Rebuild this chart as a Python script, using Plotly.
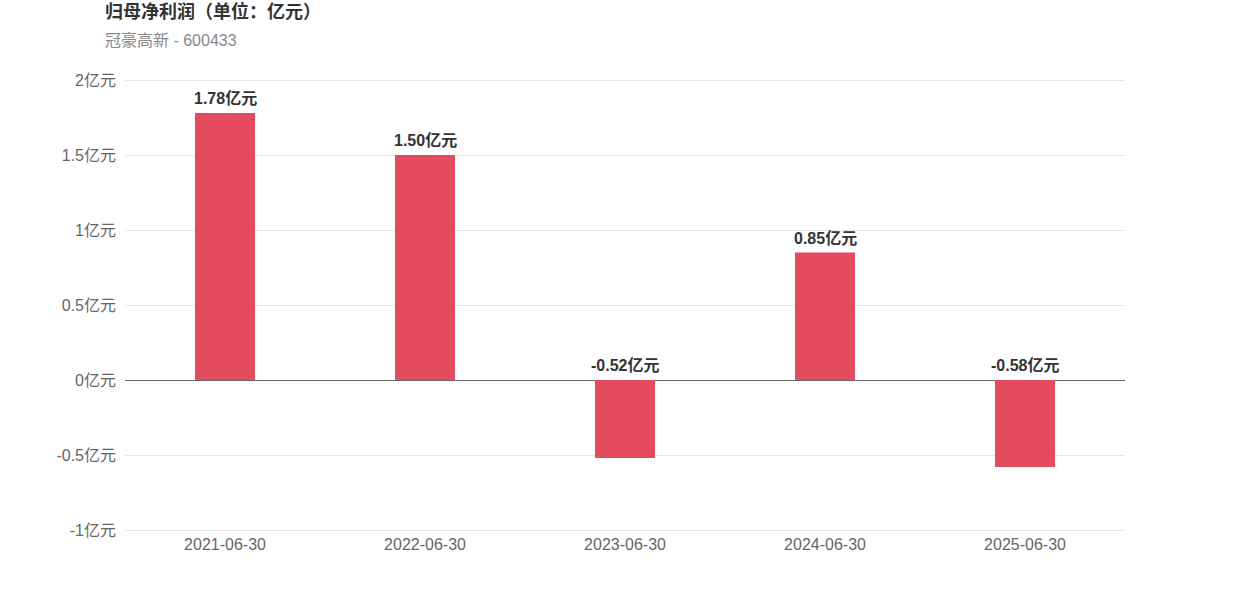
import plotly.graph_objects as go

categories = ["2021-06-30", "2022-06-30", "2023-06-30", "2024-06-30", "2025-06-30"]
values = [1.78, 1.50, -0.52, 0.85, -0.58]
labels = ["1.78亿元", "1.50亿元", "-0.52亿元", "0.85亿元", "-0.58亿元"]
tick_vals = [-1, -0.5, 0, 0.5, 1, 1.5, 2]
tick_text = ["-1亿元", "-0.5亿元", "0亿元", "0.5亿元", "1亿元", "1.5亿元", "2亿元"]

FONT = "Liberation Sans, Arial, Noto Sans CJK SC, sans-serif"

W, H = 1250, 600
PAD = 0.02          # small range padding so edge gridlines are drawn
UNIT = 150          # pixels per 1 亿元
l = 125
r = W - 1125
t = int(round(80 - PAD * UNIT))
b = int(round(H - (530 + PAD * UNIT)))

fig = go.Figure()
fig.add_trace(go.Bar(
    x=categories, y=values, width=0.3,
    marker=dict(color="#e54b5f", line=dict(width=0)),
    hoverinfo="skip",
))

annotations = []
for c, v, s in zip(categories, values, labels):
    annotations.append(dict(
        x=c, y=max(v, 0), xref="x", yref="y", text="<b>%s</b>" % s,
        showarrow=False, yanchor="bottom", yshift=4,
        font=dict(family=FONT, size=16, color="#333333"),
    ))

pw, ph = W - l - r, H - t - b
def paper(px, py):
    return (px - l) / pw, 1 - (py - t) / ph

tx, ty = paper(103, 12)
annotations.append(dict(text="<b>归母净利润（单位：亿元）</b>", x=tx, y=ty, xref="paper", yref="paper",
                        xanchor="left", yanchor="middle", showarrow=False,
                        font=dict(size=18, color="#333333", family=FONT)))
sx, sy = paper(103, 40)
annotations.append(dict(text="冠豪高新 - 600433", x=sx, y=sy, xref="paper", yref="paper",
                        xanchor="left", yanchor="middle", showarrow=False,
                        font=dict(size=16, color="#888888", family=FONT)))

fig.update_layout(
    width=W, height=H,
    margin=dict(l=l, r=r, t=t, b=b),
    plot_bgcolor="white", paper_bgcolor="white",
    showlegend=False,
    font=dict(family=FONT),
    xaxis=dict(type="category", showgrid=False, showline=False, ticks="",
               tickfont=dict(size=16, color="#666666"), ticklabelstandoff=0),
    yaxis=dict(range=[-1 - PAD, 2 + PAD], tickvals=tick_vals, ticktext=tick_text,
               showgrid=True, gridcolor="#e6e6e6", gridwidth=1,
               zeroline=True, zerolinecolor="#666666", zerolinewidth=1,
               tickfont=dict(size=16, color="#666666"), ticklabelstandoff=8),
    annotations=annotations,
)

fig.write_html("out.html", config={"displayModeBar": False},
               post_script="document.body.style.margin='0';")
